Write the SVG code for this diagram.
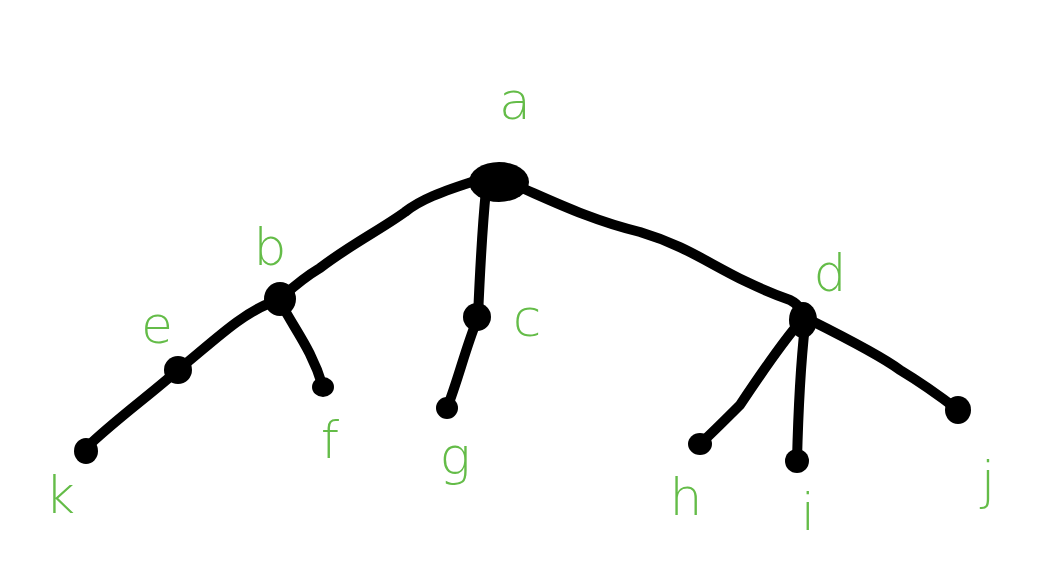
<svg xmlns="http://www.w3.org/2000/svg" width="1040" height="561" viewBox="0 0 1040 561">
<style>
.e{fill:none;stroke:#000;stroke-width:10;stroke-linecap:round;stroke-linejoin:round}
.n{fill:#000}
.t{fill:#64bc48;font-family:"DejaVu Sans","Liberation Sans",sans-serif;font-size:52px;font-weight:300}
</style>
<rect width="1040" height="561" fill="#fff"/>
<g id="connectors">
<path class="e" d="M478,180 C440,192 420,200 405,212 C380,230 350,245 320,268 C300,280 290,290 280,299"/>
<path class="e" d="M486,190 C482,230 480,270 478,317"/>
<path class="e" d="M515,185 C550,200 590,220 640,232 C700,250 720,275 790,300 C800,305 803,312 803,320"/>
<path class="e" d="M270,303 C240,315 215,340 178,370"/>
<path class="e" d="M178,370 C150,395 115,420 86,448"/>
<path class="e" d="M282,305 C295,330 312,350 323,387"/>
<path class="e" d="M477,320 C465,350 458,380 447,408"/>
<path class="e" d="M800,322 C780,345 760,375 740,405 C725,420 710,435 700,444"/>
<path class="e" d="M805,325 C800,370 798,420 797,461"/>
<path class="e" d="M810,320 C840,335 880,355 900,370 C925,385 945,400 958,410"/>
</g>
<g id="node-a"><ellipse class="n" cx="499" cy="182" rx="30" ry="20"/><text class="t" x="515" y="119" text-anchor="middle">a</text></g>
<g id="node-b"><ellipse class="n" cx="280" cy="299" rx="16" ry="17"/><text class="t" x="270" y="265" text-anchor="middle">b</text></g>
<g id="node-c"><ellipse class="n" cx="477" cy="317" rx="14" ry="14"/><text class="t" x="527" y="336" text-anchor="middle">c</text></g>
<g id="node-d"><ellipse class="n" cx="803" cy="320" rx="14" ry="18"/><text class="t" x="830" y="291" text-anchor="middle">d</text></g>
<g id="node-e"><ellipse class="n" cx="178" cy="370" rx="14" ry="14"/><text class="t" x="157" y="343" text-anchor="middle">e</text></g>
<g id="node-f"><ellipse class="n" cx="323" cy="387" rx="11" ry="10"/><text class="t" x="330" y="458" text-anchor="middle">f</text></g>
<g id="node-g"><ellipse class="n" cx="447" cy="408" rx="11" ry="11"/><text class="t" x="455" y="474" text-anchor="middle">g</text></g>
<g id="node-h"><ellipse class="n" cx="700" cy="444" rx="12" ry="11"/><text class="t" x="686" y="515" text-anchor="middle">h</text></g>
<g id="node-i"><ellipse class="n" cx="797" cy="461" rx="12" ry="12"/><text class="t" x="808" y="530" text-anchor="middle">i</text></g>
<g id="node-j"><ellipse class="n" cx="958" cy="410" rx="13" ry="14"/><text class="t" x="988" y="498" text-anchor="middle">j</text></g>
<g id="node-k"><ellipse class="n" cx="86" cy="451" rx="12" ry="13"/><text class="t" x="60" y="513" text-anchor="middle" font-size="60">k</text></g>
</svg>
